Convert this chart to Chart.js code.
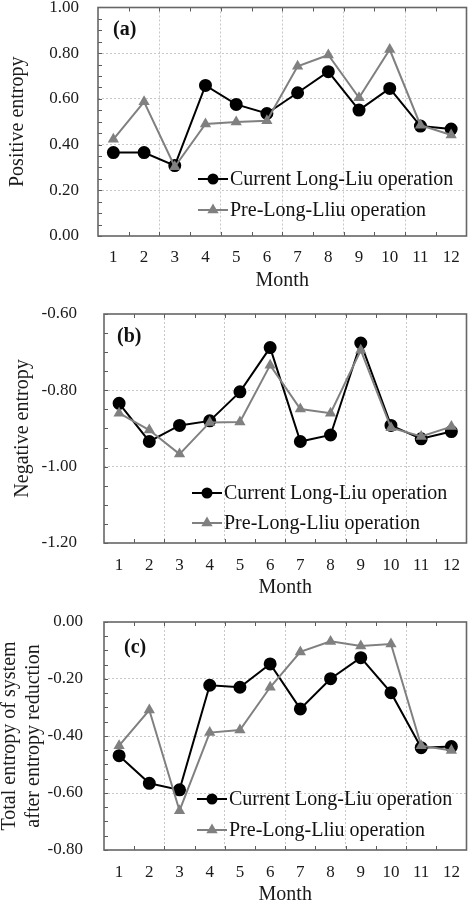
<!DOCTYPE html>
<html>
<head>
<meta charset="utf-8">
<script src="https://cdn.jsdelivr.net/npm/chart.js@4.4.0/dist/chart.umd.min.js"></script>
<style>
  html, body { margin: 0; padding: 0; background: #fff; }
  canvas { display: block; }
</style>
</head>
<body>
<canvas id="chartA" width="474" height="300"></canvas>
<canvas id="chartB" width="474" height="300"></canvas>
<canvas id="chartC" width="474" height="305"></canvas>
<script>
// data
const months = ['1', '2', '3', '4', '5', '6', '7', '8', '9', '10', '11', '12'];

const positiveCurrent = [0.365, 0.365, 0.308, 0.659, 0.576, 0.536, 0.627, 0.719, 0.551, 0.646, 0.481, 0.468];
const positivePre     = [0.423, 0.587, 0.303, 0.490, 0.499, 0.504, 0.743, 0.792, 0.605, 0.816, 0.485, 0.442];

const negativeCurrent = [-0.834, -0.934, -0.892, -0.880, -0.804, -0.688, -0.934, -0.917, -0.676, -0.892, -0.927, -0.908];
const negativePre     = [-0.860, -0.904, -0.967, -0.884, -0.883, -0.734, -0.849, -0.860, -0.695, -0.898, -0.921, -0.895];

const totalCurrent = [-0.469, -0.566, -0.589, -0.222, -0.229, -0.147, -0.305, -0.199, -0.125, -0.248, -0.441, -0.437];
const totalPre     = [-0.434, -0.309, -0.662, -0.388, -0.379, -0.229, -0.105, -0.068, -0.084, -0.077, -0.434, -0.451];

const positiveTicks = [0, 0.2, 0.4, 0.6, 0.8, 1.0];
const negativeTicks = [-1.2, -1.0, -0.8, -0.6];
const totalTicks = [-0.8, -0.6, -0.4, -0.2, 0];

const seriesNames = ['Current Long-Liu operation', 'Pre-Long-Lliu operation'];

Chart.defaults.font.family = "'Liberation Serif', 'Times New Roman', serif";
Chart.defaults.color = '#1a1a1a';

function drawMarker(ctx, style, x, y, color) {
    ctx.fillStyle = color;
    ctx.beginPath();
    if (style === 'circle') {
        ctx.arc(x, y, 5.5, 0, Math.PI * 2);
    } else {
        const r = 6.5;
        ctx.moveTo(x, y - r);
        ctx.lineTo(x + r * 0.866, y + r * 0.5);
        ctx.lineTo(x - r * 0.866, y + r * 0.5);
        ctx.closePath();
    }
    ctx.fill();
}

// frame, inward ticks, panel letter and legend
const decor = {
    id: 'decor',
    beforeDatasetsDraw(chart, args, opts) {
        const { ctx, chartArea: a, scales: { x, y } } = chart;
        ctx.save();
        ctx.strokeStyle = '#5a5a5a';
        ctx.lineWidth = 1;
        ctx.beginPath();
        // minor y ticks every quarter step
        const yt = opts.ticks;
        const q = (yt[1] - yt[0]) / 4;
        for (let v = yt[0]; v <= yt[yt.length - 1] + 1e-9; v += q) {
            const py = Math.round(y.getPixelForValue(v)) + 0.5;
            ctx.moveTo(a.left, py);
            ctx.lineTo(a.left + 4, py);
        }
        // x ticks at month boundaries
        for (let i = 1; i < months.length; i++) {
            const px = Math.round((x.getPixelForValue(i - 1) + x.getPixelForValue(i)) / 2) + 0.5;
            ctx.moveTo(px, a.bottom);
            ctx.lineTo(px, a.bottom - 4);
            ctx.moveTo(px, a.top);
            ctx.lineTo(px, a.top + 4);
        }
        ctx.stroke();
        ctx.lineWidth = 1.6;
        ctx.strokeStyle = '#666';
        ctx.strokeRect(a.left, a.top, a.right - a.left, a.bottom - a.top);
        ctx.restore();
    },
    afterDraw(chart, args, opts) {
        const { ctx } = chart;
        ctx.save();
        ctx.fillStyle = '#111';
        ctx.font = "bold 20px 'Liberation Serif'";
        ctx.textBaseline = 'middle';
        ctx.textAlign = 'left';
        ctx.fillText(opts.label, opts.labelX, opts.labelY);

        ctx.font = "20px 'Liberation Serif'";
        chart.data.datasets.forEach((ds, i) => {
            const ly = opts.legendY[i];
            ctx.strokeStyle = ds.borderColor;
            ctx.lineWidth = 2;
            ctx.beginPath();
            ctx.moveTo(opts.legendX, ly);
            ctx.lineTo(opts.legendX + 30, ly);
            ctx.stroke();
            drawMarker(ctx, ds.pointStyle, opts.legendX + 15, ly, ds.pointBackgroundColor);
            ctx.fillStyle = '#111';
            ctx.fillText(ds.label, opts.legendX + 32, ly + 1);
        });
        ctx.restore();
    }
};

function makePanel(id, current, pre, ticks, p) {
    new Chart(document.getElementById(id), {
        type: 'line',
        data: {
            labels: months,
            datasets: [{
                label: seriesNames[0],
                data: current,
                borderColor: '#000',
                backgroundColor: '#000',
                pointBackgroundColor: '#000',
                pointBorderColor: '#000',
                pointStyle: 'circle',
                pointRadius: 5.5,
                borderWidth: 2,
                tension: 0,
                order: 1
            }, {
                label: seriesNames[1],
                data: pre,
                borderColor: '#808080',
                backgroundColor: '#808080',
                pointBackgroundColor: '#808080',
                pointBorderColor: '#808080',
                pointStyle: 'triangle',
                pointRadius: 6.5,
                pointBorderWidth: 0,
                borderWidth: 2,
                tension: 0,
                order: 0
            }]
        },
        options: {
            responsive: false,
            animation: false,
            layout: { padding: { top: p.top, right: 1.5, left: 0, bottom: 0 } },
            plugins: {
                legend: { display: false },
                tooltip: { enabled: false },
                decor: {
                    ticks: ticks,
                    label: p.label, labelX: p.labelX, labelY: p.labelY,
                    legendX: p.legendX, legendY: p.legendY
                }
            },
            scales: {
                x: {
                    offset: true,
                    grid: {
                        offset: true,
                        drawTicks: false,
                        color: c => (c.index % 2 === 0 && c.index > 0 && c.index < months.length) ? '#c8c8c8' : 'rgba(0,0,0,0)'
                    },
                    border: { display: false, dash: [2, 2] },
                    ticks: { font: { size: 17 }, padding: p.xPad, maxRotation: 0, autoSkip: false },
                    title: { display: true, text: 'Month', font: { size: 20 }, padding: { top: 0, bottom: p.titleBottom } },
                    afterFit: s => { s.height = p.xHeight; s.paddingLeft = 0; s.paddingRight = 0; }
                },
                y: {
                    min: ticks[0],
                    max: ticks[ticks.length - 1],
                    afterBuildTicks: s => { s.ticks = ticks.map(v => ({ value: v })); },
                    grid: {
                        drawTicks: false,
                        color: c => (c.tick && c.tick.value > ticks[0] && c.tick.value < ticks[ticks.length - 1]) ? '#c8c8c8' : 'rgba(0,0,0,0)'
                    },
                    border: { display: false, dash: [2, 2] },
                    ticks: { font: { size: 17 }, padding: p.yPad, callback: v => Number(v).toFixed(2) },
                    title: { display: true, text: p.yTitle, font: { size: 20, lineHeight: 1.2 }, padding: { top: p.yTitlePad, bottom: 0 } },
                    afterFit: s => { s.width = p.left; s.paddingTop = 0; s.paddingBottom = 0; }
                }
            }
        },
        plugins: [decor]
    });
}

makePanel('chartA', positiveCurrent, positivePre, positiveTicks, {
    top: 7, left: 98, xHeight: 64, xPad: 11, titleBottom: 7, yPad: 19,
    yTitle: 'Positive entropy', yTitlePad: 6,
    label: '(a)', labelX: 113, labelY: 30, legendX: 198, legendY: [179, 210]
});
makePanel('chartB', negativeCurrent, negativePre, negativeTicks, {
    top: 14, left: 104, xHeight: 57, xPad: 12, titleBottom: 0, yPad: 27,
    yTitle: 'Negative entropy', yTitlePad: 11,
    label: '(b)', labelX: 117, labelY: 37, legendX: 192, legendY: [193, 223]
});
makePanel('chartC', totalCurrent, totalPre, totalTicks, {
    top: 22, left: 104, xHeight: 55, xPad: 12, titleBottom: -2, yPad: 21,
    yTitle: ['Total entropy of system', 'after entropy reduction'], yTitlePad: -2,
    label: '(c)', labelX: 124, labelY: 48, legendX: 197, legendY: [199, 230]
});
</script>
</body>
</html>
